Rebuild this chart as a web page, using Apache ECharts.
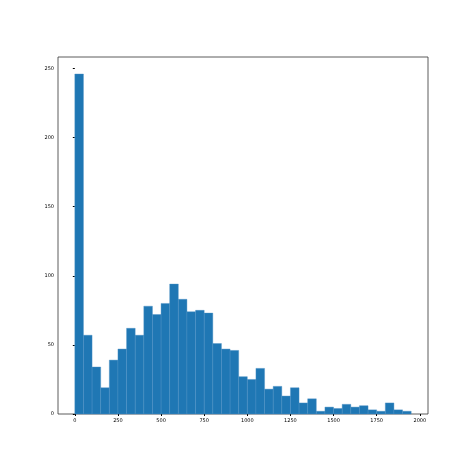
<!DOCTYPE html><html><head><meta charset="utf-8"><script src="https://cdn.jsdelivr.net/npm/echarts@6/dist/echarts.min.js"></script></head><body style="margin:0"><div id="c" style="width:474px;height:474px"></div><script>
const binStart=0, binWidth=50;
const counts=[246,57,34,19,39,47,62,57,78,72,80,94,83,74,75,73,51,47,46,27,25,33,18,20,13,19,8,11,2,5,4,7,5,6,3,2,8,3,2];
const xTicks=[0,250,500,750,1000,1250,1500,1750,2000];
const yTicks=[0,50,100,150,200,250];
const data=counts.map((c,i)=>[binStart+i*binWidth,binStart+(i+1)*binWidth,c]);
const ch=echarts.init(document.getElementById('c'));
const lab={fontSize:5,color:'#000',fontFamily:'DejaVu Sans'};
ch.setOption({animation:false,
grid:{left:58,right:46,top:57,bottom:60,show:true,borderColor:'#333',borderWidth:0.8,backgroundColor:'#fff'},
xAxis:{type:'value',min:-97.5,max:2047.5,interval:250,splitLine:{show:false},
 axisLine:{show:false},axisTick:{show:true,length:2,lineStyle:{color:'#000'}},
 axisLabel:{...lab,margin:4,customValues:xTicks,formatter:v=>String(v)},axisTick:{customValues:xTicks,length:2,lineStyle:{color:'#000'}}},
yAxis:{type:'value',min:0,max:258.3,splitLine:{show:false},axisLine:{show:false},
 axisLabel:{...lab,margin:4,customValues:yTicks},axisTick:{show:true,customValues:yTicks,length:2,lineStyle:{color:'#000'}}},
series:[{type:'custom',data:data,encode:{x:[0,1],y:2},renderItem:(p,api)=>{
 const a=api.coord([api.value(0),api.value(2)]),b=api.coord([api.value(1),0]);
 return {type:'rect',shape:{x:a[0],y:a[1],width:b[0]-a[0],height:b[1]-a[1]},style:{fill:'#1f77b4',stroke:'#4b8fc4',lineWidth:0.4}};
}}]});
</script></body></html>
